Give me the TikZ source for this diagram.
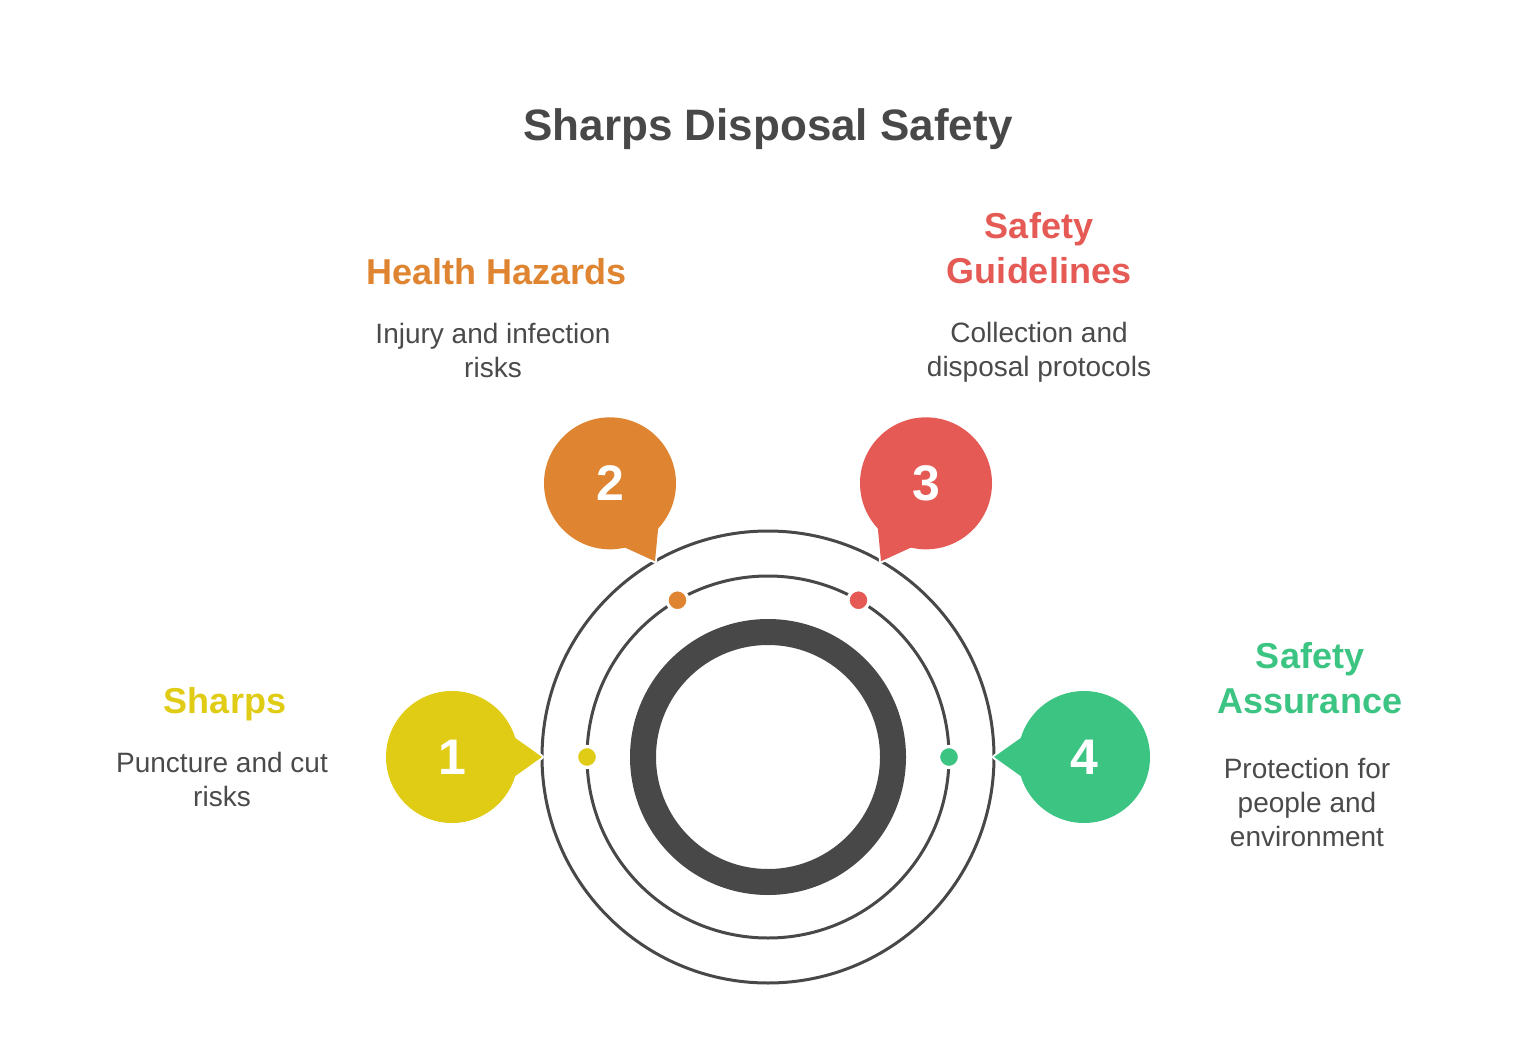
\documentclass[tikz,border=0pt]{standalone}
\usepackage{fontspec}
\setmainfont{Liberation Sans}
\usetikzlibrary{positioning,calc}

\definecolor{sharpsY}{HTML}{E0CB15}
\definecolor{hazardO}{HTML}{DF8431}
\definecolor{guideR}{HTML}{E55A54}
\definecolor{assureG}{HTML}{3CC483}
\definecolor{ringgray}{HTML}{484848}
\definecolor{textgray}{HTML}{4A4A4A}

\begin{document}
\begin{tikzpicture}[x=0.5pt,y=0.5pt,
  badge/.style={circle, fill=#1, minimum size=66pt, inner sep=0pt,
    text=white, font=\bfseries\fontsize{25}{30}\selectfont},
  dot/.style={circle, fill=#1, draw=white, line width=1.6pt, minimum size=10.5pt, inner sep=0pt},
  gap/.style={draw=white, line width=2pt, line join=round},
  head/.style={text=#1, font=\bfseries\fontsize{18}{22.5}\selectfont, align=center},
  desc/.style={text=textgray, font=\fontsize{14}{17}\selectfont, align=center}]
\useasboundingbox (0,0) rectangle (1536,1062);

% Title
\node[text=ringgray, font=\bfseries\fontsize{22}{26}\selectfont] (title) at (768,933) {Sharps Disposal Safety};

% Rings
\coordinate (C) at (768,305);
\draw[ringgray, line width=1.5pt] (C) circle[radius=226];
\draw[ringgray, line width=1.5pt] (C) circle[radius=181];
\draw[ringgray, line width=13pt] (C) circle[radius=125];

% Badge centres and pointer tips
\coordinate (c1) at ($(C)+(180:316)$);
\coordinate (c2) at ($(C)+(120:316)$);
\coordinate (c3) at ($(C)+(60:316)$);
\coordinate (c4) at ($(C)+(0:316)$);
\coordinate (t1) at ($(C)+(180:226)$);
\coordinate (t2) at ($(C)+(120:226)$);
\coordinate (t3) at ($(C)+(60:226)$);
\coordinate (t4) at ($(C)+(0:226)$);

% White gaps where the pointers meet the outer ring
\draw[gap] ($(c1)+(25:60)$) -- (t1) -- ($(c1)+(-25:60)$);
\draw[gap] ($(c2)+(-35:60)$) -- (t2) -- ($(c2)+(-85:60)$);
\draw[gap] ($(c3)+(215:60)$) -- (t3) -- ($(c3)+(265:60)$);
\draw[gap] ($(c4)+(155:60)$) -- (t4) -- ($(c4)+(205:60)$);

% Badges
\node[badge=sharpsY] (sharps) at (c1) {1};
\node[badge=hazardO] (hazards) at (c2) {2};
\node[badge=guideR] (guidelines) at (c3) {3};
\node[badge=assureG] (assurance) at (c4) {4};

% Pointers
\fill[sharpsY] ($(c1)+(25:60)$) -- (t1) -- ($(c1)+(-25:60)$) -- cycle;
\fill[hazardO] ($(c2)+(-35:60)$) -- (t2) -- ($(c2)+(-85:60)$) -- cycle;
\fill[guideR] ($(c3)+(215:60)$) -- (t3) -- ($(c3)+(265:60)$) -- cycle;
\fill[assureG] ($(c4)+(155:60)$) -- (t4) -- ($(c4)+(205:60)$) -- cycle;

% Dots on the middle ring
\node[dot=sharpsY] (dot1) at ($(C)+(180:181)$) {};
\node[dot=hazardO] (dot2) at ($(C)+(120:181)$) {};
\node[dot=guideR] (dot3) at ($(C)+(60:181)$) {};
\node[dot=assureG] (dot4) at ($(C)+(0:181)$) {};

% Labels
\node[head=sharpsY] (sharpsT) at (225,358) {Sharps};
\node[desc] (sharpsD) at (222,283) {Puncture and cut\\risks};
\node[head=hazardO] (hazardsT) at (497,790) {Health Hazards};
\node[desc] (hazardsD) at (493,712) {Injury and infection\\risks};
\node[head=guideR] (guidelinesT) at (1039,814) {Safety\\Guidelines};
\node[desc] (guidelinesD) at (1039,710) {Collection and\\disposal protocols};
\node[head=assureG] (assuranceT) at (1310,384) {Safety\\Assurance};
\node[desc] (assuranceD) at (1307,260) {Protection for\\people and\\environment};

\end{tikzpicture}
\end{document}
